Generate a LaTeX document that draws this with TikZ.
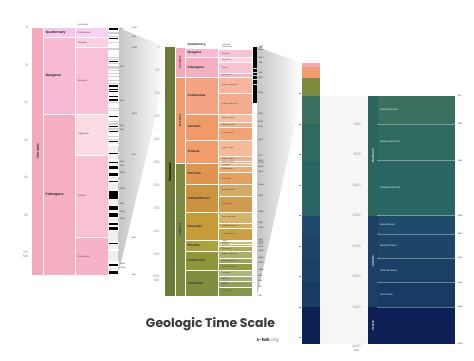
\documentclass[tikz,border=0pt]{standalone}
\usepackage{fontspec}
\setmainfont{Poppins}
\usetikzlibrary{positioning}

\definecolor{quat}{HTML}{F5C6EC}
\definecolor{neo}{HTML}{F7B9D3}
\definecolor{paleo}{HTML}{F6AEC3}
\definecolor{ceno}{HTML}{F5A9BF}
\definecolor{meso}{HTML}{F09E6E}
\definecolor{paleoz}{HTML}{7B8A3E}
\definecolor{phan}{HTML}{6B7A36}
\definecolor{cret}{HTML}{F4A383}
\definecolor{jur}{HTML}{F09A68}
\definecolor{tri}{HTML}{F39C6C}
\definecolor{perm}{HTML}{E0954E}
\definecolor{carb}{HTML}{CC923F}
\definecolor{dev}{HTML}{C69C38}
\definecolor{sil}{HTML}{AAA23F}
\definecolor{ord}{HTML}{8E953B}
\definecolor{camb}{HTML}{7F8F3F}
\definecolor{prot}{HTML}{2A665C}
\definecolor{arch}{HTML}{1B4066}
\definecolor{hade}{HTML}{0C2056}
\definecolor{neop}{HTML}{3B6F5F}
\definecolor{mesop}{HTML}{2F6A60}
\definecolor{paleop}{HTML}{2A6663}
\definecolor{neoa}{HTML}{1E4A6B}
\definecolor{mesoa}{HTML}{1C4568}
\definecolor{paleoa}{HTML}{1A4066}
\definecolor{eoa}{HTML}{173B63}
\definecolor{inkgray}{HTML}{3A3A3A}
\definecolor{axisgray}{HTML}{8A8A8A}

% normal polarity intervals (Ma)
\newcommand\chronlist{0/0.78, 0.99/1.07, 1.78/1.95, 2.58/3.03, 3.11/3.22, 3.33/3.60,
  4.19/4.30, 4.49/4.63, 4.80/4.90, 5.00/5.24, 6.03/6.25, 6.44/6.73, 7.14/7.21,
  7.25/7.45, 7.53/7.64, 8.11/8.25, 8.77/9.10, 9.79/9.98, 11.06/11.15, 11.59/12.01,
  12.47/12.73, 13.18/13.37, 13.61/13.70, 14.16/14.61, 15.16/15.99, 16.27/16.60,
  16.72/17.24, 17.53/17.72, 18.06/18.52, 18.76/19.72, 20.04/20.21, 20.44/20.71,
  21.08/21.16, 21.63/21.77, 22.27/22.56, 22.75/22.97, 23.03/23.23, 23.30/23.96,
  24.00/24.11, 24.47/24.76, 25.18/25.26, 25.99/26.42, 27.44/27.86, 28.09/28.28,
  28.40/28.75, 29.18/29.48, 29.97/30.59, 30.98/31.23, 33.16/33.71, 35.10/35.30,
  35.71/36.05, 36.70/37.65, 38.02/38.33, 38.62/39.63, 40.70/41.18, 43.43/45.72,
  47.35/48.57, 49.34/50.63, 51.83/52.62, 53.07/53.98, 57.10/57.66, 58.96/59.24,
  62.22/62.52, 62.93/63.49, 64.67/65.69}

\tikzset{
    perlbl/.style={font=\fontsize{3.3}{4}\selectfont\bfseries, text=inkgray, anchor=west, inner sep=0pt},
    eplbl/.style={font=\fontsize{2.1}{2.5}\selectfont, text=inkgray, anchor=west, inner sep=0pt},
    smalleplbl/.style={font=\fontsize{1.7}{2}\selectfont, text=inkgray, anchor=west, inner sep=0pt},
    eralbl/.style={font=\fontsize{3}{3.5}\selectfont\bfseries, text=inkgray, rotate=90, inner sep=0pt},
    axislbl/.style={font=\fontsize{3.3}{4}\selectfont, text=axisgray, anchor=east, inner sep=0pt, align=center},
    numlbl/.style={font=\fontsize{1.8}{2}\selectfont, text=black, anchor=west, inner sep=0pt},
    row/.style={draw=white, line width=0.2pt},
    darklbl/.style={font=\fontsize{2.4}{3}\selectfont, text=white, anchor=west, inner sep=0pt},
    eonlbl/.style={font=\fontsize{2.4}{3}\selectfont\bfseries, text=white, rotate=90, inner sep=0pt},
    bound/.style={draw=white, draw opacity=0.35, line width=0.3pt},
    wedge/.style={left color=gray!45, right color=white},
    chronbar/.style={fill=black, draw=white, line width=0.15pt}
}

\begin{document}
\begin{tikzpicture}[x=1pt, y=-1pt]
\useasboundingbox (0,0) rectangle (474,360);
\fill[white] (0,0) rectangle (474,360);

% zoom wedges
\shade[wedge] (118,27.5) -- (165,47) -- (165,77.4) -- (118,275) -- cycle;
\shade[wedge] (257,47) -- (302,63) -- (302,96) -- (257,296) -- cycle;
\fill[gray!7] (320,96) rectangle (368,343.6);

% ---- panel 1: Cenozoic ----
\fill[ceno] (32,27.5) rectangle (43,275);
\node[eralbl, font=\fontsize{3.2}{3.5}\selectfont\bfseries] (ceno1) at (37.5,151) {Cenozoic};
\foreach \a/\b/\c/\lbl [count=\i] in {0/2.58/quat/Quaternary, 2.58/23.03/neo/Neogene, 23.03/66/paleo/Paleogene}{
    \path[fill=\c, row] (43,{27.5+3.75*\a}) rectangle (75,{27.5+3.75*\b});
    \node[perlbl] (per1-\i) at (45.5,{27.5+3.75*(\a+\b)/2}) {\lbl};
}
\foreach \a/\b/\c/\lbl [count=\i] in {0/2.58/quat!80!white/Pleistocene, 2.58/5.333/neo!65!white/Pliocene,
    5.333/23.03/neo!88!white/Miocene, 23.03/33.9/paleo!45!white/Oligocene,
    33.9/56/paleo!75!white/Eocene, 56/66/paleo!95!white/Paleocene}{
    \path[fill=\c, row] (75,{27.5+3.75*\a}) rectangle (107.7,{27.5+3.75*\b});
    \node[eplbl] (ep1-\i) at (78,{27.5+3.75*(\a+\b)/2}) {\lbl};
}
\node[eplbl] (holo1) at (78,24.8) {Holocene};
% polarity bars
\fill[gray!35] (108,27.5) rectangle (118,142);
\fill[gray!12] (108,142) rectangle (118,275);
\foreach \a/\b in \chronlist
    \path[chronbar] (108,{27.5+3.75*\a}) rectangle (118,{27.5+3.75*\b});
\foreach \t/\lbl [count=\i] in {0.4/C1n, 10.5/C5n, 19.6/C6n, 26.3/C8n, 27.4/C9n, 35.9/C16n,
    36.8/C17n, 38.8/C18n, 43.1/C20n, 47.1/C21n, 49.2/C22n, 51.1/C23n, 62.9/C28n, 64.2/C29n}
    \node[numlbl] (chr-\i) at (120,{27.5+3.75*\t}) {\lbl};
\foreach \t [count=\i] in {0.0117, 2.58, 5.333, 23.03, 33.9, 56.0, 66.0}
    \node[numlbl] (bd1-\i) at (132,{27.5+3.75*\t}) {\t};
\foreach \t [count=\i] in {0,10,20,30,40,50}
    \node[axislbl] (ax1-\i) at (28.5,{27.5+3.75*\t}) {\t};
\node[axislbl, anchor=north east] (ax1-ma) at (28.5,250.8) {60\\Ma};

% ---- panel 2: Phanerozoic ----
\fill[phan] (165,47) rectangle (175,296);
\node[eralbl, text=black] (phan2) at (170,172) {Phanerozoic};
\foreach \a/\b/\c/\lbl [count=\i] in {0/66/ceno/Cenozoic, 66/252.17/meso/Mesozoic, 252.17/541/paleoz/Paleozoic}{
    \path[fill=\c, row] (175,{47+0.46*\a}) rectangle (185,{47+0.46*\b});
    \node[eralbl, font=\fontsize{2.5}{3}\selectfont\bfseries] (era2-\i) at (180,{47+0.23*(\a+\b)}) {\lbl};
}
\foreach \a/\b/\c/\lbl [count=\i] in {2.58/23.03/neo/Neogene, 23.03/66/paleo/Paleogene,
    66/145/cret/Cretaceous, 145/201.3/jur/Jurassic, 201.3/252.17/tri/Triassic,
    252.17/298.9/perm/Permian, 298.9/358.9/carb/Carboniferous, 358.9/419.2/dev/Devonian,
    419.2/443.8/sil/Silurian, 443.8/485.4/ord/Ordovician, 485.4/541/camb/Cambrian}{
    \path[fill=\c, row] (185,{47+0.46*\a}) rectangle (218,{47+0.46*\b});
    \node[perlbl, font=\fontsize{3}{3.5}\selectfont\bfseries] (per2-\i) at (187.5,{47+0.23*(\a+\b)}) {\lbl};
}
\path[fill=quat, row] (185,47) rectangle (218,48.2);
\node[perlbl, font=\fontsize{3}{3.5}\selectfont\bfseries] (quat2) at (187.5,45) {Quaternary};
\foreach \a/\b/\c/\lbl [count=\i] in {2.58/5.333/neo!65!white/Pliocene, 5.333/23.03/neo!88!white/Miocene,
    23.03/33.9/paleo!50!white/Oligocene, 33.9/56/paleo!75!white/Eocene, 56/66/paleo!95!white/Paleocene,
    66/100.5/cret!80!white/Upper Cretaceous, 100.5/145/cret!92!white/Lower Cretaceous,
    145/163.5/jur!65!white/Upper Jurassic, 163.5/174.1/jur!80!white/Middle Jurassic,
    174.1/201.3/jur!90!white/Lower Jurassic, 201.3/237/tri!70!white/Upper Triassic,
    237/247.2/tri!82!white/Middle Triassic, 247.2/252.17/tri!95!white/Lower Triassic,
    252.17/259.9/perm!65!white/Lopingian, 259.9/272.3/perm!78!white/Guadalupian,
    272.3/298.9/perm!90!white/Cisuralian, 298.9/323.2/carb!80!white/Pennsylvanian,
    323.2/358.9/carb!92!white/Mississippian, 358.9/382.7/dev!75!white/Upper Devonian,
    382.7/393.3/dev!85!white/Middle Devonian, 393.3/419.2/dev!95!white/Lower Devonian,
    419.2/423/sil!60!white/Pridoli, 423/427.4/sil!70!white/Ludlow,
    427.4/433.4/sil!80!white/Wenlock, 433.4/443.8/sil!90!white/Llandovery,
    443.8/458.4/ord!75!white/Upper Ordovician, 458.4/470/ord!85!white/Middle Ordovician,
    470/485.4/ord!95!white/Lower Ordovician, 485.4/497/camb!65!white/Furongian,
    497/509/camb!75!white/Series 3, 509/521/camb!85!white/Series 2,
    521/541/camb!95!white/Terreneuvian}{
    \path[fill=\c, row] (218,{47+0.46*\a}) rectangle (252.5,{47+0.46*\b});
    \node[smalleplbl] (ep2-\i) at (222,{47+0.23*(\a+\b)}) {\lbl};
}
\path[fill=quat!80!white, row] (218,47) rectangle (252.5,48.2);
\node[smalleplbl] (holo2) at (222,44.8) {Holocene};
\node[smalleplbl] (pleis2) at (222,46.6) {Pleistocene};
% polarity bars
\fill[gray!35] (252.8,47) rectangle (257,102.7);
\foreach \a/\b in \chronlist
    \fill[black] (252.8,{47+0.46*\a}) rectangle (257,{47+0.46*\b});
\foreach \a/\b in {68.4/69.3, 71.4/73.6, 74.3/79.9, 83.6/121}
    \fill[black] (252.8,{47+0.46*\a}) rectangle (257,{47+0.46*\b});
\foreach \t [count=\i] in {0.0117, 2.58, 5.333, 23.03, 33.9, 56.0, 66.0, 100.5, 145.0, 163.5,
    174.1, 201.3, 237, 247.2, 252.17, 259.9, 272.3, 298.9, 323.2, 358.9, 382.7, 393.3,
    419.2, 423.0, 427.4, 433.4, 443.8, 458.4, 470.0, 485.4, 497, 509, 521, 541}
    \node[numlbl] (bd2-\i) at (258.5,{47+0.46*\t}) {\t};
\foreach \t [count=\i] in {0,50,100,150,200,250,300,350,400,450}
    \node[axislbl] (ax2-\i) at (160,{47+0.46*\t}) {\t};
\node[axislbl, anchor=north east] (ax2-ma) at (160,275.3) {500\\Ma};

% ---- panel 3: whole history ----
\foreach \a/\b/\c [count=\i] in {0/66/ceno, 66/252.17/meso, 252.17/541/paleoz, 541/1000/neop,
    1000/1600/mesop, 1600/2500/paleop, 2500/2800/neoa, 2800/3200/mesoa,
    3200/3600/paleoa, 3600/4000/eoa, 4000/4600/hade}
    \fill[\c] (302,{63+0.061*\a}) rectangle (320,{63+0.061*\b});
\foreach \t in {500,1000,...,4500}
    \draw[axisgray, line width=0.3pt] (298.5,{63+0.061*\t}) -- (300.5,{63+0.061*\t});
\foreach \t [count=\i] in {1000,1500,...,4000}
    \node[axislbl] (ax3-\i) at (361,{63+0.061*\t}) {\t};
\node[axislbl, anchor=north east] (ax3-ma) at (361,344.5) {4600\\Ma};

% ---- panel 4: Precambrian ----
\foreach \a/\b/\c/\lbl [count=\i] in {541/2500/prot/Proterozoic, 2500/4000/arch/Archean, 4000/4600/hade/Hadean}{
    \fill[\c] (368,{63+0.061*\a}) rectangle (378,{63+0.061*\b});
    \node[eonlbl] (eon4-\i) at (373,{63+0.0305*(\a+\b)}) {\lbl};
}
\foreach \a/\b/\c/\lbl [count=\i] in {541/1000/neop/Neoproterozoic, 1000/1600/mesop/Mesoproterozoic,
    1600/2500/paleop/Paleoproterozoic, 2500/2800/neoa/Neoarchean, 2800/3200/mesoa/Mesoarchean,
    3200/3600/paleoa/Paleoarchean, 3600/4000/eoa/Eoarchean}{
    \fill[\c] (378,{63+0.061*\a}) rectangle (455,{63+0.061*\b});
    \node[darklbl] (era4-\i) at (380,{63+0.0305*(\a+\b)}) {\lbl};
}
\fill[hade] (378,307) rectangle (455,343.6);
\foreach \t in {1000,1600,2500,2800,3200,3600,4000}{
    \draw[bound] (378,{63+0.061*\t}) -- (455,{63+0.061*\t});
    \fill[white, opacity=0.6] (378,{63+0.061*\t}) circle (0.6);
    \fill[white, opacity=0.6] (455,{63+0.061*\t}) circle (0.6);
}
\foreach \t [count=\i] in {541,1000,1600,2500,2800,3200,3600,4000,4600}
    \node[numlbl] (bd4-\i) at (458,{63+0.061*\t}) {\t};

% ---- title ----
\node[font=\fontsize{12.5}{14}\selectfont\bfseries, text=inkgray, inner sep=0pt] (title) at (210.5,324.5) {Geologic Time Scale};
\node[font=\fontsize{4.6}{5}\selectfont, anchor=east, inner sep=0pt] (site) at (279,340) {\textbf{\color{inkgray}s-lwk}\color{gray}.org};
\end{tikzpicture}
\end{document}
